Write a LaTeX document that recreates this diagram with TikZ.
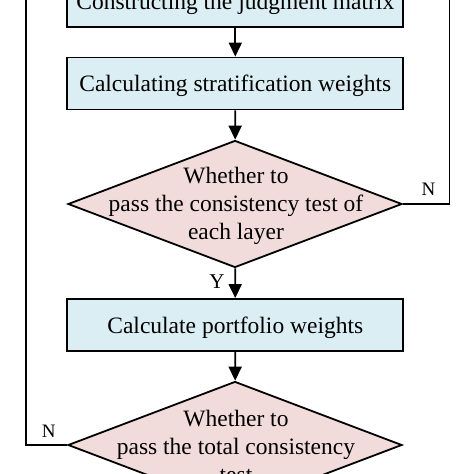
\documentclass[tikz,border=0pt]{standalone}
\usepackage{fontspec}
\setmainfont{Liberation Serif}
\usetikzlibrary{shapes.geometric,arrows.meta}
\definecolor{boxblue}{HTML}{DAEEF3}
\definecolor{decpink}{HTML}{F2DCDB}
\begin{document}
\begin{tikzpicture}[x=1pt,y=-1pt,
  procbox/.style={draw=black, line width=1.8pt, fill=boxblue, minimum width=336pt,
    minimum height=52pt, inner sep=0pt, text height=16pt, text depth=0pt,
    font=\fontsize{23.5}{28}\selectfont},
  decshape/.style={diamond, draw=black, line width=1.8pt, fill=decpink,
    minimum width=334pt, minimum height=127pt, inner sep=0pt},
  dectext/.style={align=center, inner sep=0pt, font=\fontsize{23.5}{28}\selectfont},
  lbl/.style={inner sep=0pt, font=\fontsize{19}{22}\selectfont},
  arr/.style={-{Triangle[length=14pt,width=13pt]}, line width=1.8pt},
  conn/.style={line width=1.8pt}]
\useasboundingbox (0,0) rectangle (474,474);
\clip (0,0) rectangle (474,474);

\node[procbox] (b1) at (235.3,1) {Constructing the judgment matrix};
\node[procbox] (b2) at (235.3,83.5) {Calculating stratification weights};
\node[decshape] (d1) at (235,204) {};
\node[dectext] (t1) at (236,205.5) {Whether to\\pass the consistency test of\\each layer};
\node[procbox] (b3) at (235.3,325) {Calculate portfolio weights};
\node[decshape] (d2) at (235,445) {};
\node[dectext] (t2) at (236,446.5) {Whether to\\pass the total consistency\\test};

\coordinate (r1) at (449.5,-30);
\coordinate (l1) at (26,-30);

\draw[arr] (b1) -- (b2);
\draw[arr] (b2) -- (d1);
\draw[arr] (d1) -- (b3);
\draw[arr] (b3) -- (d2);
\draw[conn] (d1.east) -| (r1);
\draw[conn] (d2.west) -| (l1);

\node[lbl] (n1) at (428.5,189.5) {N};
\node[lbl, font=\fontsize{21}{24}\selectfont] (y1) at (217,281.5) {Y};
\node[lbl] (n2) at (48.7,431) {N};
\end{tikzpicture}
\end{document}
